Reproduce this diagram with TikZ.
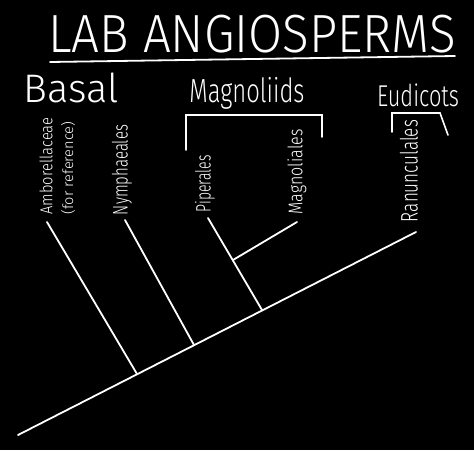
\documentclass[tikz,border=0pt]{standalone}
\usepackage{fontspec}
\setmainfont{Fira Sans}[UprightFont=* Light]
\usepackage{graphicx}
\newcommand\fitlab[3]{\resizebox*{#1}{#2}{#3}}
\tikzset{
  lab/.style={text=white, inner sep=0pt, outer sep=0pt},
  vlab/.style={lab, rotate=90},
  branch/.style={draw=white, line width=1.8pt, line cap=round},
  brack/.style={draw=white, line width=1.6pt, line cap=round, line join=miter},
}
\begin{document}
\begin{tikzpicture}[x=1pt,y=-1pt]
\fill[black] (0,0) rectangle (474,450);
\useasboundingbox (0,0) rectangle (474,450);

% title
\node[lab] (title) at (252,34) {\fitlab{407pt}{38pt}{LAB ANGIOSPERMS}};
\coordinate (ulA) at (50,62);
\coordinate (ulB) at (455,56);
\draw[branch] (ulA) -- (ulB);

% group headings
\node[lab] (basal) at (71,88) {\fitlab{95pt}{30pt}{Basal}};
\node[lab] (magn) at (247,93) {\fitlab{115pt}{32pt}{Magnoliids}};
\node[lab] (eud) at (418,95) {\fitlab{82pt}{23pt}{Eudicots}};

% brackets
\coordinate (mb1) at (186,150);
\coordinate (mb2) at (186,115);
\coordinate (mb3) at (322,115);
\coordinate (mb4) at (322,137);
\draw[brack] (mb1) -- (mb2) -- (mb3) -- (mb4);
\coordinate (eb1) at (392,132);
\coordinate (eb2) at (392,113);
\coordinate (eb3) at (440,113);
\coordinate (eb4) at (448,135);
\draw[brack] (eb1) -- (eb2) -- (eb3) -- (eb4);

% taxon labels
\node[vlab] (amb) at (46,166) {\fitlab{97pt}{13pt}{Amborellaceae}};
\node[vlab] (ref) at (68,168) {\fitlab{93pt}{14pt}{(for reference)}};
\node[vlab] (nym) at (122,170) {\fitlab{90pt}{20pt}{Nymphaeales}};
\node[vlab] (pip) at (205,184) {\fitlab{57pt}{20pt}{Piperales}};
\node[vlab] (mag) at (297,172) {\fitlab{85pt}{19pt}{Magnoliales}};
\node[vlab] (ran) at (409,171) {\fitlab{102pt}{18pt}{Ranunculales}};

% tree
\coordinate (root) at (18,435);
\coordinate (j1) at (137,374);
\coordinate (j2) at (194,345);
\coordinate (j3) at (262,310);
\coordinate (jm) at (233,260);
\coordinate (tA) at (47,222);
\coordinate (tN) at (125,220);
\coordinate (tP) at (208,218);
\coordinate (tM) at (297,222);
\coordinate (tR) at (416,232);

\draw[branch] (root) -- (tR);
\draw[branch] (j1) -- (tA);
\draw[branch] (j2) -- (tN);
\draw[branch] (j3) -- (tP);
\draw[branch] (jm) -- (tM);
\end{tikzpicture}
\end{document}
